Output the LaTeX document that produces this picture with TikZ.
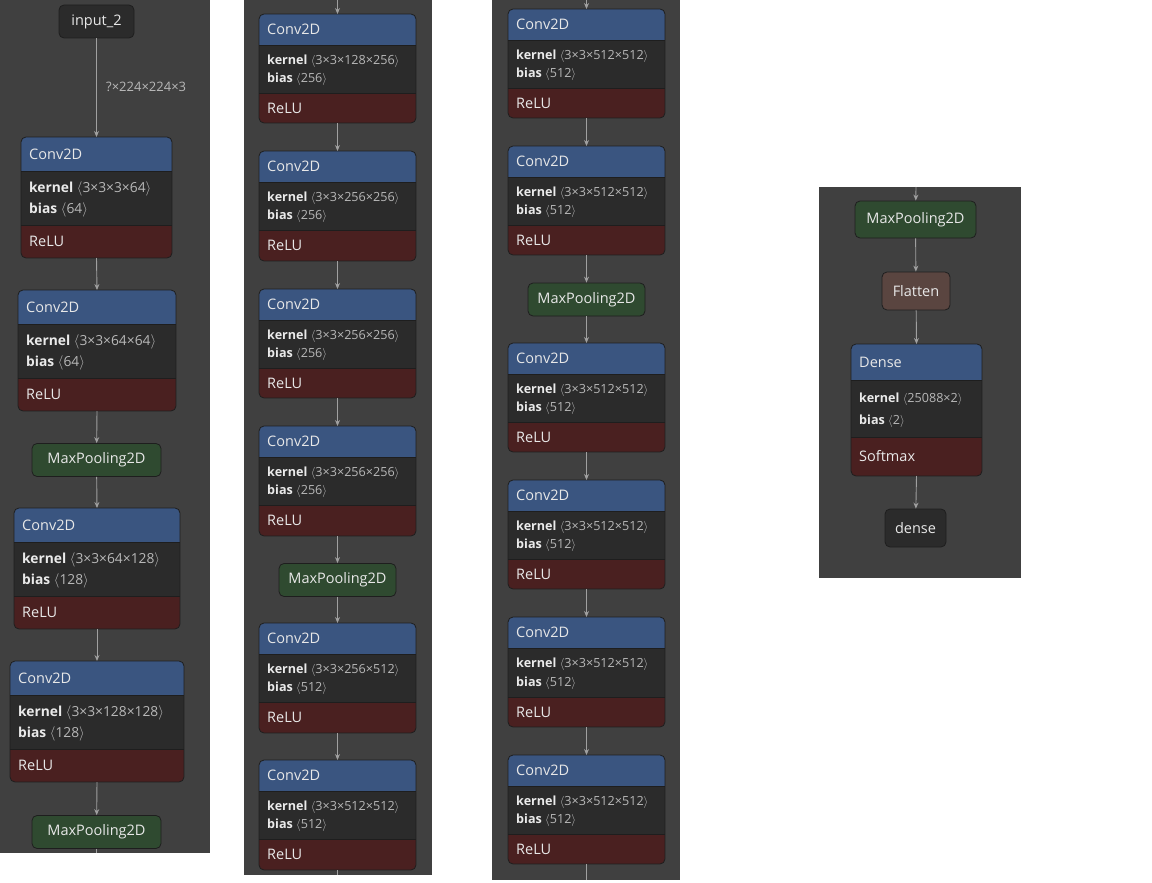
\documentclass[tikz,border=0pt]{standalone}
\usepackage{fontspec}
\setmainfont{Open Sans}
\usetikzlibrary{arrows.meta}
\definecolor{panel}{HTML}{404040}
\definecolor{hdr}{HTML}{3A5580}
\definecolor{bodyc}{HTML}{2B2B2B}
\definecolor{reluc}{HTML}{4A2020}
\definecolor{poolc}{HTML}{2F4A30}
\definecolor{flatc}{HTML}{5A4540}
\definecolor{edge}{HTML}{1E1E1E}
\definecolor{arr}{HTML}{A0A0A0}
\definecolor{txt}{HTML}{E8E8E8}
\definecolor{sub}{HTML}{B8B8B8}
\def\attrsize{12.6}
\tikzset{
  conn/.style={draw=arr, line width=0.9pt, -{Stealth[length=6pt,width=5pt]}},
  ttl/.style={text=txt, font=\fontsize{14.5}{16}\selectfont, anchor=west, inner sep=0},
  attr/.style={text=sub, font=\fontsize{\attrsize}{13}\selectfont, anchor=west, inner sep=0},
  pill/.style={rounded corners=5pt, draw=edge, line width=0.8pt, text=txt, font=\fontsize{14.5}{16}\selectfont, inner sep=0, minimum height=33pt},
}
\def\actname{ReLU}
\def\lname{Conv2D}
\newcommand\cblock[9]{%
  \begin{scope}
    \clip[rounded corners=5pt] (#2,#4) rectangle (#3,#7);
    \fill[hdr] (#2,#4) rectangle (#3,#5);
    \fill[bodyc] (#2,#5) rectangle (#3,#6);
    \fill[reluc] (#2,#6) rectangle (#3,#7);
  \end{scope}
  \draw[edge, line width=0.8pt, rounded corners=5pt] (#2,#4) rectangle (#3,#7);
  \draw[edge, line width=0.8pt] (#2,#5) -- (#3,#5) (#2,#6) -- (#3,#6);
  \node[ttl] (#1-h) at ({#2+8},{(#4+#5)/2}) {\lname};
  \node[attr] (#1-k) at ({#2+8},{#5+(#6-#5)*0.33}) {\textbf{\color{txt!90}kernel} \ensuremath{\langle}#8\ensuremath{\rangle}};
  \node[attr] (#1-b) at ({#2+8},{#5+(#6-#5)*0.72}) {\textbf{\color{txt!90}bias} \ensuremath{\langle}#9\ensuremath{\rangle}};
  \node[ttl] (#1-a) at ({#2+8},{(#6+#7)/2}) {\actname};
  \coordinate (#1-t) at ({(#2+#3)/2},#4);
  \coordinate (#1-e) at ({(#2+#3)/2},#7);
}
\begin{document}
\begin{tikzpicture}[x=1pt,y=-1pt]
\useasboundingbox (0,0) rectangle (1152,883);
\fill[white] (0,0) rectangle (1152,883);
\fill[panel] (0,0) rectangle (210,853);
\fill[panel] (244,0) rectangle (432,875);
\fill[panel] (492,0) rectangle (680,880);
\fill[panel] (819,187) rectangle (1021,578);
% panel 1
\def\attrsize{13.8}
\node[pill, fill=bodyc, minimum width=75pt] (in) at (96.5,21.5) {input\_2};
\node[text=sub, font=\fontsize{13}{14}\selectfont, anchor=west, inner sep=0] (shape) at (106,87) {?×224×224×3};
\cblock{a1}{21}{172}{137}{171}{225}{258}{3×3×3×64}{64}
\cblock{a2}{18}{176}{290}{324}{378}{411}{3×3×64×64}{64}
\node[pill, fill=poolc, minimum width=129pt] (p1) at (96.5,460) {MaxPooling2D};
\cblock{a3}{14}{180}{508}{542}{596}{629}{3×3×64×128}{128}
\cblock{a4}{10}{184}{661}{695}{749}{782}{3×3×128×128}{128}
\node[pill, fill=poolc, minimum width=129pt] (p2) at (96.5,832) {MaxPooling2D};
\coordinate (e1) at (96.5,853);
\draw[conn] (in) -- (a1-t);
\draw[conn] (a1-e) -- (a2-t);
\draw[conn] (a2-e) -- (p1);
\draw[conn] (p1) -- (a3-t);
\draw[conn] (a3-e) -- (a4-t);
\draw[conn] (a4-e) -- (p2);
\draw[draw=arr, line width=0.9pt] (p2) -- (e1);
\def\attrsize{12.6}
% panel 2
\coordinate (s2) at (337.5,0);
\cblock{b1}{259}{416}{14}{45}{93}{123}{3×3×128×256}{256}
\cblock{b2}{259}{416}{151}{182}{230}{261}{3×3×256×256}{256}
\cblock{b3}{259}{416}{289}{320}{368}{398}{3×3×256×256}{256}
\cblock{b4}{259}{416}{426}{457}{505}{536}{3×3×256×256}{256}
\node[pill, fill=poolc, minimum width=117pt] (p3) at (337.5,580) {MaxPooling2D};
\cblock{b5}{259}{416}{623}{654}{702}{733}{3×3×256×512}{512}
\cblock{b6}{259}{416}{760}{791}{839}{870}{3×3×512×512}{512}
\coordinate (e2) at (337.5,875);
\draw[conn] (s2) -- (b1-t);
\draw[conn] (b1-e) -- (b2-t);
\draw[conn] (b2-e) -- (b3-t);
\draw[conn] (b3-e) -- (b4-t);
\draw[conn] (b4-e) -- (p3);
\draw[conn] (p3) -- (b5-t);
\draw[conn] (b5-e) -- (b6-t);
\draw[draw=arr, line width=0.9pt] (b6-e) -- (e2);
% panel 3
\coordinate (s3) at (586.5,0);
\cblock{c1}{508}{665}{9}{40}{88}{118}{3×3×512×512}{512}
\cblock{c2}{508}{665}{146}{177}{225}{255}{3×3×512×512}{512}
\node[pill, fill=poolc, minimum width=117pt] (p4) at (586.5,299.5) {MaxPooling2D};
\cblock{c3}{508}{665}{343}{374}{422}{452}{3×3×512×512}{512}
\cblock{c4}{508}{665}{480}{511}{559}{589}{3×3×512×512}{512}
\cblock{c5}{508}{665}{617}{648}{697}{727}{3×3×512×512}{512}
\cblock{c6}{508}{665}{755}{786}{834}{864}{3×3×512×512}{512}
\coordinate (e3) at (586.5,880);
\draw[conn] (s3) -- (c1-t);
\draw[conn] (c1-e) -- (c2-t);
\draw[conn] (c2-e) -- (p4);
\draw[conn] (p4) -- (c3-t);
\draw[conn] (c3-e) -- (c4-t);
\draw[conn] (c4-e) -- (c5-t);
\draw[conn] (c5-e) -- (c6-t);
\draw[draw=arr, line width=0.9pt] (c6-e) -- (e3);
% panel 4
\coordinate (s4) at (916,187);
\node[pill, fill=poolc, minimum width=121pt, minimum height=37pt] (p5) at (915.5,219.5) {MaxPooling2D};
\node[pill, fill=flatc, minimum width=68pt, minimum height=38pt] (fl) at (916,291) {Flatten};
\def\actname{Softmax}\def\lname{Dense}
\cblock{d1}{851}{982}{344}{380}{437}{476}{25088×2}{2}
\node[pill, fill=bodyc, minimum width=61pt, minimum height=38pt] (out) at (915.5,528) {dense};
\draw[conn] (s4) -- (p5);
\draw[conn] (p5) -- (fl);
\draw[conn] (fl) -- (d1-t);
\draw[conn] (d1-e) -- (out);
\end{tikzpicture}
\end{document}
